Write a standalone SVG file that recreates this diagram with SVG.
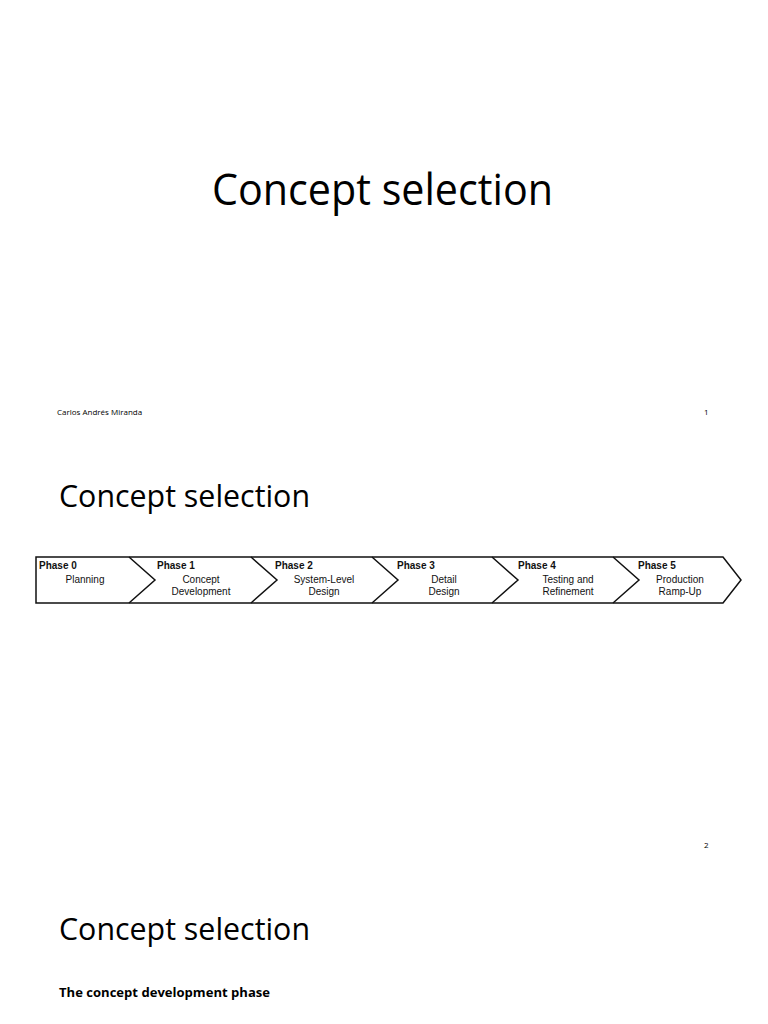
<svg xmlns="http://www.w3.org/2000/svg" width="768" height="1024" viewBox="0 0 768 1024">
<style>
.t{font-family:"Open Sans","Liberation Sans",sans-serif;fill:#000}
.p{font-family:"Liberation Sans",sans-serif;font-size:10px;fill:#111}
.b{font-weight:bold}
.c{fill:none;stroke:#111;stroke-width:1.5}
</style>
<rect width="768" height="1024" fill="#fff"/>
<text class="t" x="212" y="205" font-size="44" textLength="341" lengthAdjust="spacingAndGlyphs">Concept selection</text>
<text class="t" x="57" y="415" font-size="8" fill="#555">Carlos Andrés Miranda</text>
<text class="t" x="704" y="415" font-size="8">1</text>
<text class="t" x="59" y="507" font-size="31" textLength="251" lengthAdjust="spacingAndGlyphs">Concept selection</text>
<g id="phases">
<path class="c" d="M36 557 H723 L741 580 L723 603 H36 Z"/>
<path class="c" d="M129 557 L155 580 L129 603 M251 557 L277 580 L251 603 M372 557 L398 580 L372 603 M492 557 L518 580 L492 603 M613 557 L639 580 L613 603"/>
<text class="p b" x="39" y="569">Phase 0</text>
<text class="p" x="85" y="583" text-anchor="middle">Planning</text>
<text class="p b" x="157" y="569">Phase 1</text>
<text class="p" x="201" y="583" text-anchor="middle">Concept</text>
<text class="p" x="201" y="595" text-anchor="middle">Development</text>
<text class="p b" x="275" y="569">Phase 2</text>
<text class="p" x="324" y="583" text-anchor="middle">System-Level</text>
<text class="p" x="324" y="595" text-anchor="middle">Design</text>
<text class="p b" x="397" y="569">Phase 3</text>
<text class="p" x="444" y="583" text-anchor="middle">Detail</text>
<text class="p" x="444" y="595" text-anchor="middle">Design</text>
<text class="p b" x="518" y="569">Phase 4</text>
<text class="p" x="568" y="583" text-anchor="middle">Testing and</text>
<text class="p" x="568" y="595" text-anchor="middle">Refinement</text>
<text class="p b" x="638" y="569">Phase 5</text>
<text class="p" x="680" y="583" text-anchor="middle">Production</text>
<text class="p" x="680" y="595" text-anchor="middle">Ramp-Up</text>
</g>
<text class="t" x="704" y="848" font-size="8">2</text>
<text class="t" x="59" y="940" font-size="31" textLength="251" lengthAdjust="spacingAndGlyphs">Concept selection</text>
<text class="t b" x="59" y="997" font-size="13" textLength="211" lengthAdjust="spacingAndGlyphs">The concept development phase</text>
</svg>
